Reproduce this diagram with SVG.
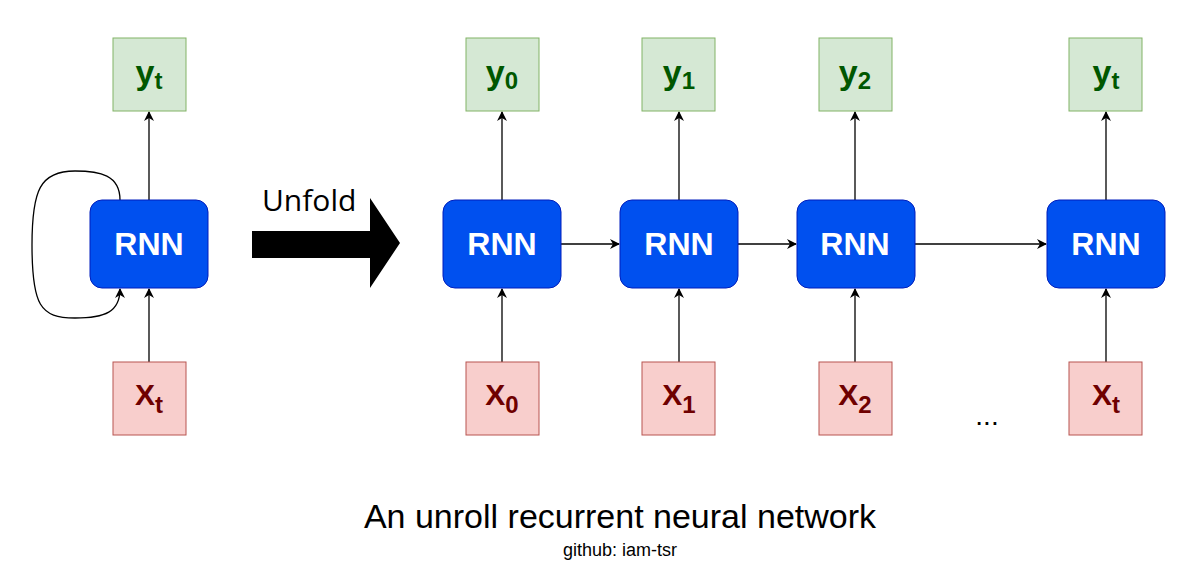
<svg xmlns="http://www.w3.org/2000/svg" width="1200" height="587" viewBox="0 0 1200 587">
<style>
.y{fill:#d5e8d4;stroke:#82b366;stroke-width:1}
.x{fill:#f8cecc;stroke:#b85450;stroke-width:1}
.rnn{fill:#0050ef;stroke:#001dbc;stroke-width:1}
.rt{font-family:"Liberation Sans",Arial,sans-serif;font-weight:bold;font-size:32px;fill:#ffffff;text-anchor:middle}
.yt{font-family:"Liberation Sans",Arial,sans-serif;font-weight:bold;font-size:34px;fill:#005700;text-anchor:middle}
.xt{font-family:"Liberation Sans",Arial,sans-serif;font-weight:bold;font-size:30px;fill:#6f0000;text-anchor:middle}
.sub{font-size:24px}
.c{fill:none;stroke:#000;stroke-width:1.3}
.t{font-family:"Liberation Sans",Arial,sans-serif;fill:#000;text-anchor:middle}
</style>
<defs>
<marker id="a" viewBox="0 0 10 10" refX="9" refY="5" markerWidth="10" markerHeight="10" markerUnits="userSpaceOnUse" orient="auto">
<path d="M0,0 L10,5 L0,10 L3,5 Z" fill="#000"/>
</marker>
</defs>
<g id="connectors">
<line class="c" x1="149" y1="200" x2="149" y2="112" marker-end="url(#a)"/>
<line class="c" x1="149" y1="362" x2="149" y2="289" marker-end="url(#a)"/>
<path class="c" d="M120,200 C120,175 100,171 75,171 C40,171 32,190 32,245 C32,305 40,318 75,318 C105,318 120,312 120,289" marker-end="url(#a)"/>
<line class="c" x1="502" y1="200" x2="502" y2="112" marker-end="url(#a)"/>
<line class="c" x1="502" y1="362" x2="502" y2="289" marker-end="url(#a)"/>
<line class="c" x1="679" y1="200" x2="679" y2="112" marker-end="url(#a)"/>
<line class="c" x1="679" y1="362" x2="679" y2="289" marker-end="url(#a)"/>
<line class="c" x1="855" y1="200" x2="855" y2="112" marker-end="url(#a)"/>
<line class="c" x1="855" y1="362" x2="855" y2="289" marker-end="url(#a)"/>
<line class="c" x1="1106" y1="200" x2="1106" y2="112" marker-end="url(#a)"/>
<line class="c" x1="1106" y1="362" x2="1106" y2="289" marker-end="url(#a)"/>
<line class="c" x1="561" y1="244" x2="619" y2="244" marker-end="url(#a)"/>
<line class="c" x1="738" y1="244" x2="796" y2="244" marker-end="url(#a)"/>
<line class="c" x1="914" y1="244" x2="1046" y2="244" marker-end="url(#a)"/>
</g>
<g id="unfold-arrow">
<polygon points="252,231 370,231 370,198 400,243 370,288 370,258 252,258" fill="#000"/>
<text x="262" y="211" font-family="'Open Sans','Liberation Sans',sans-serif" font-size="30" fill="#000">Unfold</text>
</g>
<g id="y-t-left"><rect class="y" x="113" y="38" width="73" height="73"/><text class="yt" x="149" y="84">y<tspan class="sub" dy="5">t</tspan></text></g>
<g id="rnn-left"><rect class="rnn" x="90" y="200" width="118" height="88" rx="12"/><text class="rt" x="149" y="255">RNN</text></g>
<g id="x-t-left"><rect class="x" x="113" y="362" width="73" height="73"/><text class="xt" x="149" y="405">X<tspan class="sub" dy="8">t</tspan></text></g>

<g id="y0"><rect class="y" x="466" y="38" width="73" height="73"/><text class="yt" x="502" y="84">y<tspan class="sub" dy="5">0</tspan></text></g>
<g id="rnn0"><rect class="rnn" x="443" y="200" width="118" height="88" rx="12"/><text class="rt" x="502" y="255">RNN</text></g>
<g id="x0"><rect class="x" x="466" y="362" width="73" height="73"/><text class="xt" x="502" y="405">X<tspan class="sub" dy="8">0</tspan></text></g>

<g id="y1"><rect class="y" x="642" y="38" width="73" height="73"/><text class="yt" x="679" y="84">y<tspan class="sub" dy="5">1</tspan></text></g>
<g id="rnn1"><rect class="rnn" x="620" y="200" width="118" height="88" rx="12"/><text class="rt" x="679" y="255">RNN</text></g>
<g id="x1"><rect class="x" x="642" y="362" width="73" height="73"/><text class="xt" x="679" y="405">X<tspan class="sub" dy="8">1</tspan></text></g>

<g id="y2"><rect class="y" x="819" y="38" width="73" height="73"/><text class="yt" x="855" y="84">y<tspan class="sub" dy="5">2</tspan></text></g>
<g id="rnn2"><rect class="rnn" x="797" y="200" width="118" height="88" rx="12"/><text class="rt" x="855" y="255">RNN</text></g>
<g id="x2"><rect class="x" x="819" y="362" width="73" height="73"/><text class="xt" x="855" y="405">X<tspan class="sub" dy="8">2</tspan></text></g>

<g id="yt"><rect class="y" x="1069" y="38" width="73" height="73"/><text class="yt" x="1106" y="84">y<tspan class="sub" dy="5">t</tspan></text></g>
<g id="rnnt"><rect class="rnn" x="1047" y="200" width="118" height="88" rx="12"/><text class="rt" x="1106" y="255">RNN</text></g>
<g id="xt"><rect class="x" x="1069" y="362" width="73" height="73"/><text class="xt" x="1106" y="405">X<tspan class="sub" dy="8">t</tspan></text></g>

<g id="ellipsis"><text class="t" x="987" y="425" font-size="28">...</text></g>
<g id="caption">
<text class="t" x="620" y="528" font-size="34">An unroll recurrent neural network</text>
<text class="t" x="620" y="556" font-size="18">github: iam-tsr</text>
</g>
</svg>
